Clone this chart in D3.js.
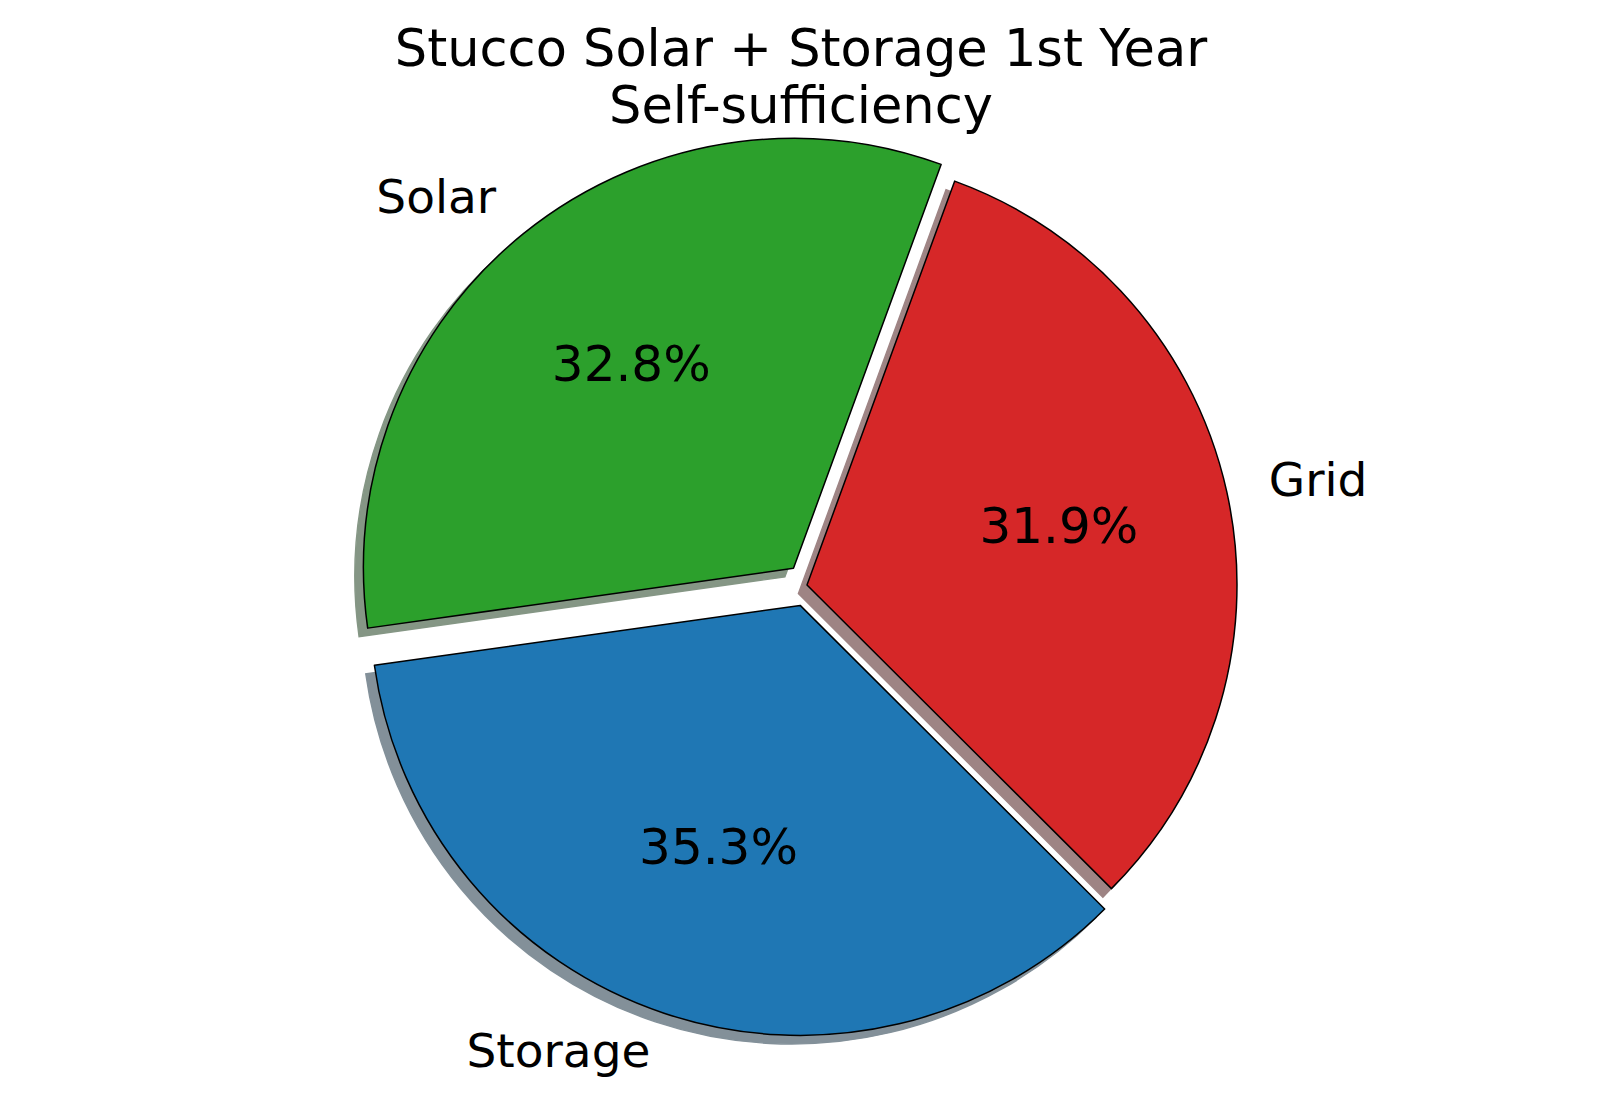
<!DOCTYPE html>
<html>
<head>
<meta charset="utf-8">
<script src="https://cdn.jsdelivr.net/npm/d3@7"></script>
<style>
  html, body { margin: 0; padding: 0; background: #fff; }
  svg { display: block; }
  text { font-family: "DejaVu Sans", sans-serif; fill: #000; }
</style>
</head>
<body>
<script>
// ---- data ----
const categories = ["Storage", "Grid", "Solar"];
const values = [35.3, 31.9, 32.8];
const colors = ["#1f77b4", "#d62728", "#2ca02c"];
const explode = [0.05, 0, 0.05];
const titleLines = ["Stucco Solar + Storage 1st Year", "Self-sufficiency"];
const startAngleDeg = 188; // matplotlib-style start angle (counter-clockwise from 3 o'clock)

// ---- layout ----
const W = 1600, H = 1104;
const cx = 807, cy = 585, R = 430;
const shadowOff = 0.02 * R;
const labelFont = 47, pctFont = 50, titleFont = 51;

const svg = d3.select("body").append("svg").attr("width", W).attr("height", H);

const toRad = d => d * Math.PI / 180;
const startD3 = toRad(90 - startAngleDeg);
const pie = d3.pie().sort(null).value(d => d)
  .startAngle(startD3).endAngle(startD3 - 2 * Math.PI);
const arcs = pie(values);
const arc = d3.arc().innerRadius(0).outerRadius(R);
const total = d3.sum(values);
const fmt = d3.format(".1f");

const mid = a => (a.startAngle + a.endAngle) / 2;
const offset = (a, i) => {
  const m = mid(a), e = explode[i] * R;
  return [Math.sin(m) * e, -Math.cos(m) * e];
};

const g = svg.append("g").attr("transform", `translate(${cx},${cy})`);

// shadows
const shadeColor = c => {
  const r = d3.rgb(c);
  return d3.rgb(r.r * 0.3, r.g * 0.3, r.b * 0.3).toString();
};
g.selectAll("path.shadow").data(arcs).join("path")
  .attr("class", "shadow")
  .attr("d", arc)
  .attr("transform", (a, i) => {
    const [dx, dy] = offset(a, i);
    return `translate(${dx - shadowOff},${dy + shadowOff})`;
  })
  .attr("fill", (a, i) => shadeColor(colors[i]))
  .attr("stroke", (a, i) => shadeColor(colors[i]))
  .attr("stroke-width", 1.4)
  .attr("opacity", 0.5);

// wedges
g.selectAll("path.wedge").data(arcs).join("path")
  .attr("class", "wedge")
  .attr("d", arc)
  .attr("transform", (a, i) => {
    const [dx, dy] = offset(a, i);
    return `translate(${dx},${dy})`;
  })
  .attr("fill", (a, i) => colors[i])
  .attr("stroke", "#000")
  .attr("stroke-width", 1.5)
  .attr("stroke-linejoin", "round");

// category labels at 1.1 R
g.selectAll("text.label").data(arcs).join("text")
  .attr("class", "label")
  .each(function (a, i) {
    const [dx, dy] = offset(a, i);
    const m = mid(a);
    const x = dx + Math.sin(m) * 1.1 * R;
    const y = dy - Math.cos(m) * 1.1 * R;
    d3.select(this)
      .attr("x", x)
      .attr("y", y + 0.275 * labelFont)
      .attr("text-anchor", x > 0 ? "start" : "end")
      .style("font-size", labelFont + "px")
      .text(categories[i]);
  });

// percentage labels at 0.6 R
g.selectAll("text.pct").data(arcs).join("text")
  .attr("class", "pct")
  .each(function (a, i) {
    const [dx, dy] = offset(a, i);
    const m = mid(a);
    const x = dx + Math.sin(m) * 0.6 * R;
    const y = dy - Math.cos(m) * 0.6 * R;
    d3.select(this)
      .attr("x", x)
      .attr("y", y + 0.275 * pctFont)
      .attr("text-anchor", "middle")
      .style("font-size", pctFont + "px")
      .text(fmt(values[i] / total * 100) + "%");
  });

// title
svg.append("text")
  .attr("text-anchor", "middle")
  .style("font-size", titleFont + "px")
  .selectAll("tspan").data(titleLines).join("tspan")
  .attr("x", 801)
  .attr("y", (d, i) => 66 + i * 57)
  .text(d => d);
</script>
</body>
</html>
